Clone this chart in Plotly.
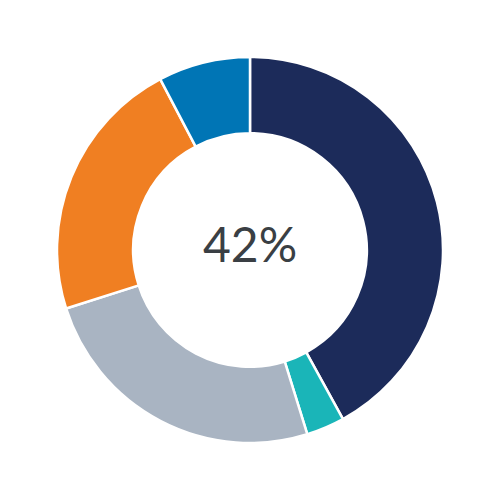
import plotly.graph_objects as go

labels = ["Navy", "Teal", "Gray", "Orange", "Blue"]
values = [42, 3.2, 24.9, 22.2, 7.7]
colors = ["#1c2b5a", "#1ab5b8", "#a9b4c2", "#f07f22", "#0075b5"]
center_text = "42%"

fig = go.Figure()
fig.add_trace(go.Pie(
    labels=labels,
    values=values,
    hole=0.605,
    sort=False,
    direction="clockwise",
    rotation=0,
    marker=dict(colors=colors, line=dict(color="white", width=2.5)),
    textinfo="none",
    hoverinfo="label+percent",
))

fig.update_layout(
    width=500, height=500,
    margin=dict(l=49, r=65, t=49, b=65),
    showlegend=False,
    paper_bgcolor="white",
    annotations=[dict(text=center_text, x=0.5, y=0.516, xref="paper", yref="paper",
                      showarrow=False,
                      font=dict(family="Lato", size=48, color="#3a3f44"))],
)

fig.write_html("out.html")
